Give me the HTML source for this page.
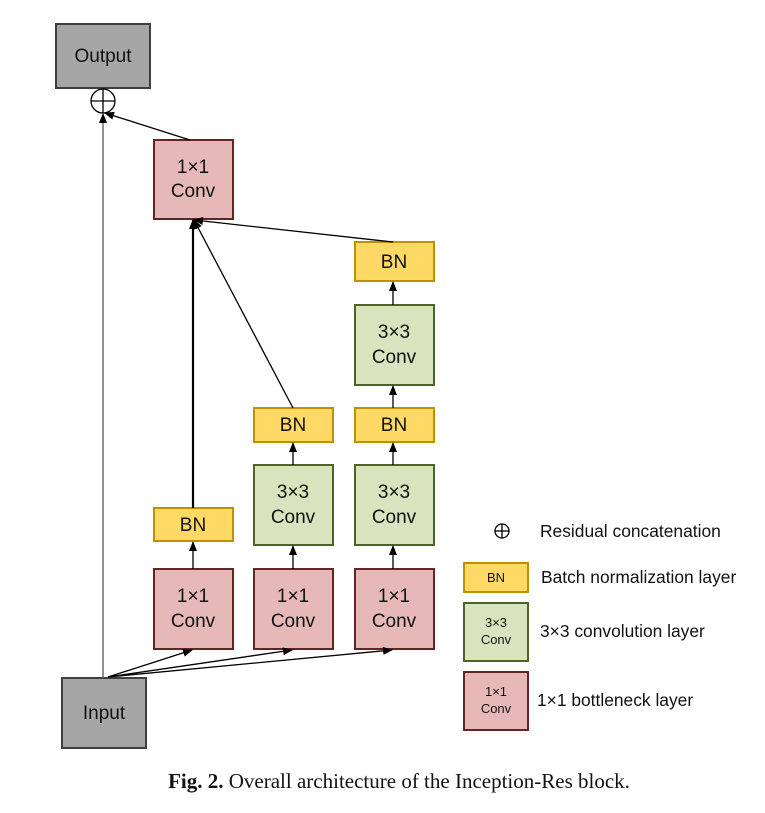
<!DOCTYPE html>
<html><head><meta charset="utf-8"><style>
body{margin:0;background:#fff;}
svg{display:block}
text{font-family:"Liberation Sans",Arial,sans-serif;fill:#111;}
</style></head><body>
<svg width="765" height="813" viewBox="0 0 765 813" xmlns="http://www.w3.org/2000/svg">
<defs>
<marker id="a" markerWidth="10" markerHeight="8" refX="9" refY="4" orient="auto" markerUnits="userSpaceOnUse">
<path d="M0,0 L10,4 L0,8 Z" fill="#000"/></marker>
</defs>
<g stroke-width="2">
<rect x="56" y="24" width="94" height="64" fill="#a6a6a6" stroke="#3f3f3f"/>
<rect x="62" y="678" width="84" height="70" fill="#a6a6a6" stroke="#3f3f3f"/>
<g fill="#e6b9b8" stroke="#632523">
<rect x="154" y="140" width="79" height="79"/>
<rect x="154" y="569" width="79" height="80"/>
<rect x="254" y="569" width="79" height="80"/>
<rect x="355" y="569" width="79" height="80"/>
<rect x="464" y="672" width="64" height="58"/>
</g>
<g fill="#d7e4bd" stroke="#4f6228">
<rect x="254" y="465" width="79" height="80"/>
<rect x="355" y="465" width="79" height="80"/>
<rect x="355" y="305" width="79" height="80"/>
<rect x="464" y="603" width="64" height="58"/>
</g>
<g fill="#ffd966" stroke="#bf9000">
<rect x="154" y="508" width="79" height="33"/>
<rect x="254" y="408" width="79" height="34"/>
<rect x="355" y="408" width="79" height="34"/>
<rect x="355" y="242" width="79" height="39"/>
<rect x="464" y="563" width="64" height="29"/>
</g>
</g>
<g stroke="#000" fill="none" stroke-width="1.3">
<circle cx="103" cy="101" r="12"/>
<line x1="91" y1="101" x2="115" y2="101"/><line x1="103" y1="89" x2="103" y2="113"/>
<circle cx="502" cy="531" r="7"/>
<line x1="495" y1="531" x2="509" y2="531"/><line x1="502" y1="524" x2="502" y2="538"/>
<line x1="103" y1="678" x2="103" y2="114" stroke="#555" marker-end="url(#a)"/>
<line x1="190" y1="140" x2="105" y2="113" marker-end="url(#a)"/>
<line x1="193" y1="508" x2="193" y2="220" stroke-width="2.2" marker-end="url(#a)"/>
<line x1="293" y1="408" x2="194" y2="220" marker-end="url(#a)"/>
<line x1="393" y1="242" x2="194" y2="220" marker-end="url(#a)"/>
<line x1="193" y1="569" x2="193" y2="542" marker-end="url(#a)"/>
<line x1="293" y1="569" x2="293" y2="546" marker-end="url(#a)"/>
<line x1="293" y1="465" x2="293" y2="443" marker-end="url(#a)"/>
<line x1="393" y1="569" x2="393" y2="546" marker-end="url(#a)"/>
<line x1="393" y1="465" x2="393" y2="443" marker-end="url(#a)"/>
<line x1="393" y1="408" x2="393" y2="386" marker-end="url(#a)"/>
<line x1="393" y1="305" x2="393" y2="282" marker-end="url(#a)"/>
<line x1="108" y1="677" x2="192" y2="650" marker-end="url(#a)"/>
<line x1="108" y1="677" x2="292" y2="650" marker-end="url(#a)"/>
<line x1="108" y1="677" x2="392" y2="650" marker-end="url(#a)"/>
</g>
<g font-size="19" text-anchor="middle">
<text x="103" y="62">Output</text>
<text x="104" y="719">Input</text>
<text x="193" y="173">1×1</text><text x="193" y="197">Conv</text>
<text x="193" y="602">1×1</text><text x="193" y="627">Conv</text>
<text x="293" y="602">1×1</text><text x="293" y="627">Conv</text>
<text x="394" y="602">1×1</text><text x="394" y="627">Conv</text>
<text x="293" y="498">3×3</text><text x="293" y="523">Conv</text>
<text x="394" y="498">3×3</text><text x="394" y="523">Conv</text>
<text x="394" y="338">3×3</text><text x="394" y="363">Conv</text>
<text x="193" y="531">BN</text>
<text x="293" y="431">BN</text>
<text x="394" y="431">BN</text>
<text x="394" y="268">BN</text>
</g>
<g font-size="13" text-anchor="middle">
<text x="496" y="582">BN</text>
<text x="496" y="627">3×3</text><text x="496" y="644">Conv</text>
<text x="496" y="696">1×1</text><text x="496" y="713">Conv</text>
</g>
<g font-size="17.4">
<text x="540" y="537">Residual concatenation</text>
<text x="541" y="583">Batch normalization layer</text>
<text x="540" y="637">3×3 convolution layer</text>
<text x="537" y="706">1×1 bottleneck layer</text>
</g>
<text x="399" y="788" text-anchor="middle" style="font-family:'Liberation Serif',serif" font-size="21"><tspan font-weight="bold">Fig. 2.</tspan>  Overall architecture of the Inception-Res block.</text>
</svg>
</body></html>
